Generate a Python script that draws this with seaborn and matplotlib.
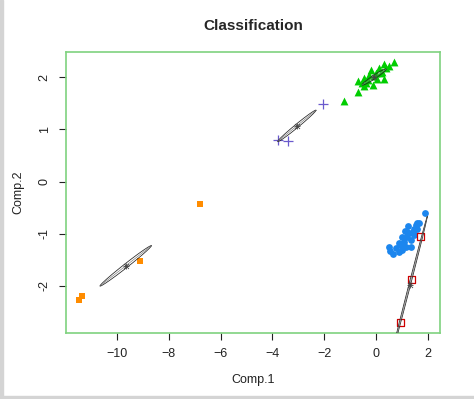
import numpy as np
import pandas as pd
import matplotlib
matplotlib.use('Agg')
import matplotlib.pyplot as plt
from matplotlib.patches import Rectangle
import seaborn as sns

# class 1: blue filled circles
blue_x = [0.50, 0.63, 0.88, 1.01, 0.95, 1.08, 1.14, 1.20, 1.27, 1.33, 1.40, 1.46,
          1.53, 1.59, 1.65, 1.33, 1.20, 1.01, 1.12, 1.24, 1.46, 0.88, 0.76, 1.59,
          1.88, 0.55, 1.05]
blue_y = [-1.26, -1.39, -1.34, -1.31, -1.22, -1.15, -1.25, -1.06, -0.99, -1.12,
          -0.96, -0.90, -0.83, -0.79, -0.80, -1.25, -0.96, -1.06, -0.94, -0.86,
          -1.02, -1.17, -1.28, -0.90, -0.60, -1.33, -1.20]
# class 2: red open squares
red_x = [1.72, 1.37, 0.95]
red_y = [-1.06, -1.87, -2.70]
# class 3: green triangles
green_x = [-0.72, -0.46, -0.40, -0.46, -0.27, -0.21, -0.08, -0.12, 0.12, 0.24,
           0.31, 0.37, 0.50, 0.67, 0.18, -0.33, -0.01, -0.55, 0.31, 0.05,
           -0.72, -1.26]
green_y = [1.93, 1.99, 1.88, 1.83, 2.04, 2.13, 2.02, 1.85, 2.17, 2.10, 1.96, 2.17,
           2.21, 2.29, 2.07, 1.94, 2.07, 1.89, 2.25, 1.96, 1.72, 1.55]
# class 4: slateblue crosses
purple_x = [-2.06, -3.80, -3.41]
purple_y = [1.48, 0.79, 0.78]
# class 5: orange filled squares
orange_x = [-6.81, -9.12, -11.36, -11.45]
orange_y = [-0.43, -1.53, -2.19, -2.27]

# fitted component ellipses: centre, major semi-axis vector, minor semi-axis length
comp_cx = [1.29, -0.08, -3.06, -9.66]
comp_cy = [-1.98, 2.00, 1.065, -1.615]
comp_major_dx = [0.68, 0.46, 0.74, 0.99]
comp_major_dy = [1.31, 0.15, 0.30, 0.385]
comp_minor = [0.03, 0.04, 0.04, 0.045]

sns.set_style('white')
plt.rcParams['font.family'] = ['Liberation Sans', 'DejaVu Sans']

fig = plt.figure(figsize=(4.74, 3.99), dpi=100)
ax = fig.add_axes([66 / 474, 1 - 333 / 399, 374 / 474, 281 / 399])

classes = [
    (blue_x, blue_y, '#1C86EE', 'o', True, 24),
    (red_x, red_y, '#CD0000', 's', False, 26),
    (green_x, green_y, '#00CD00', '^', True, 32),
    (purple_x, purple_y, '#6A5ACD', '+', None, 55),
    (orange_x, orange_y, '#FF8C00', 's', True, 20),
]
for xs, ys, col, mk, filled, size in classes:
    df = pd.DataFrame({'x': xs, 'y': ys})
    if filled is None:
        sns.scatterplot(data=df, x='x', y='y', marker=mk, color=col, s=size,
                        linewidth=0.9, ax=ax, zorder=3)
    elif filled:
        sns.scatterplot(data=df, x='x', y='y', marker=mk, color=col, s=size,
                        linewidth=0, ax=ax, zorder=3)
    else:
        sns.scatterplot(data=df, x='x', y='y', marker=mk, s=size,
                        facecolors='none', edgecolor=col, linewidth=0.9,
                        ax=ax, zorder=3)

# ellipses with principal axes and centre star
t = np.linspace(0, 2 * np.pi, 200)
for cx, cy, mdx, mdy, mn in zip(comp_cx, comp_cy, comp_major_dx,
                                comp_major_dy, comp_minor):
    u = np.array([mdx, mdy])
    v = np.array([-mdy, mdx]) / np.hypot(mdx, mdy) * mn
    ex = cx + np.cos(t) * u[0] + np.sin(t) * v[0]
    ey = cy + np.cos(t) * u[1] + np.sin(t) * v[1]
    ax.plot(ex, ey, color='#222222', lw=0.55, zorder=4)
    ax.plot([cx - u[0], cx + u[0]], [cy - u[1], cy + u[1]],
            color='#777777', lw=0.45, zorder=4)
    ax.plot([cx - v[0], cx + v[0]], [cy - v[1], cy + v[1]],
            color='#777777', lw=0.45, zorder=4)
    ax.scatter([cx], [cy], marker='+', s=20, color='#444444', lw=0.6, zorder=5)
    ax.scatter([cx], [cy], marker='x', s=13, color='#444444', lw=0.6, zorder=5)

ax.set_xlim(-11.96, 2.46)
ax.set_ylim(-2.9, 2.48)
ax.set_xticks([-10, -8, -6, -4, -2, 0, 2])
ax.set_yticks([-2, -1, 0, 1, 2])
ax.set_yticklabels(['-2', '-1', '0', '1', '2'], rotation=90, va='center')
ax.tick_params(axis='both', direction='out', length=5, width=0.8,
               labelsize=9, color='#222222', labelcolor='#222222', pad=6,
               left=True, bottom=True)
for sp in ax.spines.values():
    sp.set_color('#7fd27f')
    sp.set_linewidth(1.2)
ax.set_xlabel('Comp.1', fontsize=9, labelpad=10, color='#222222')
ax.set_ylabel('Comp.2', fontsize=9, labelpad=10, color='#222222')
ax.set_title('Classification', fontsize=11, fontweight='bold', pad=16)

# light grey frame strips of the screenshot
fig.patches.append(Rectangle((0, 0), 3 / 474, 1, transform=fig.transFigure,
                             color='#d4d4d4', zorder=0))
fig.patches.append(Rectangle((0, 0), 1, 3 / 399, transform=fig.transFigure,
                             color='#d4d4d4', zorder=0))

fig.savefig('out.png', dpi=100)
